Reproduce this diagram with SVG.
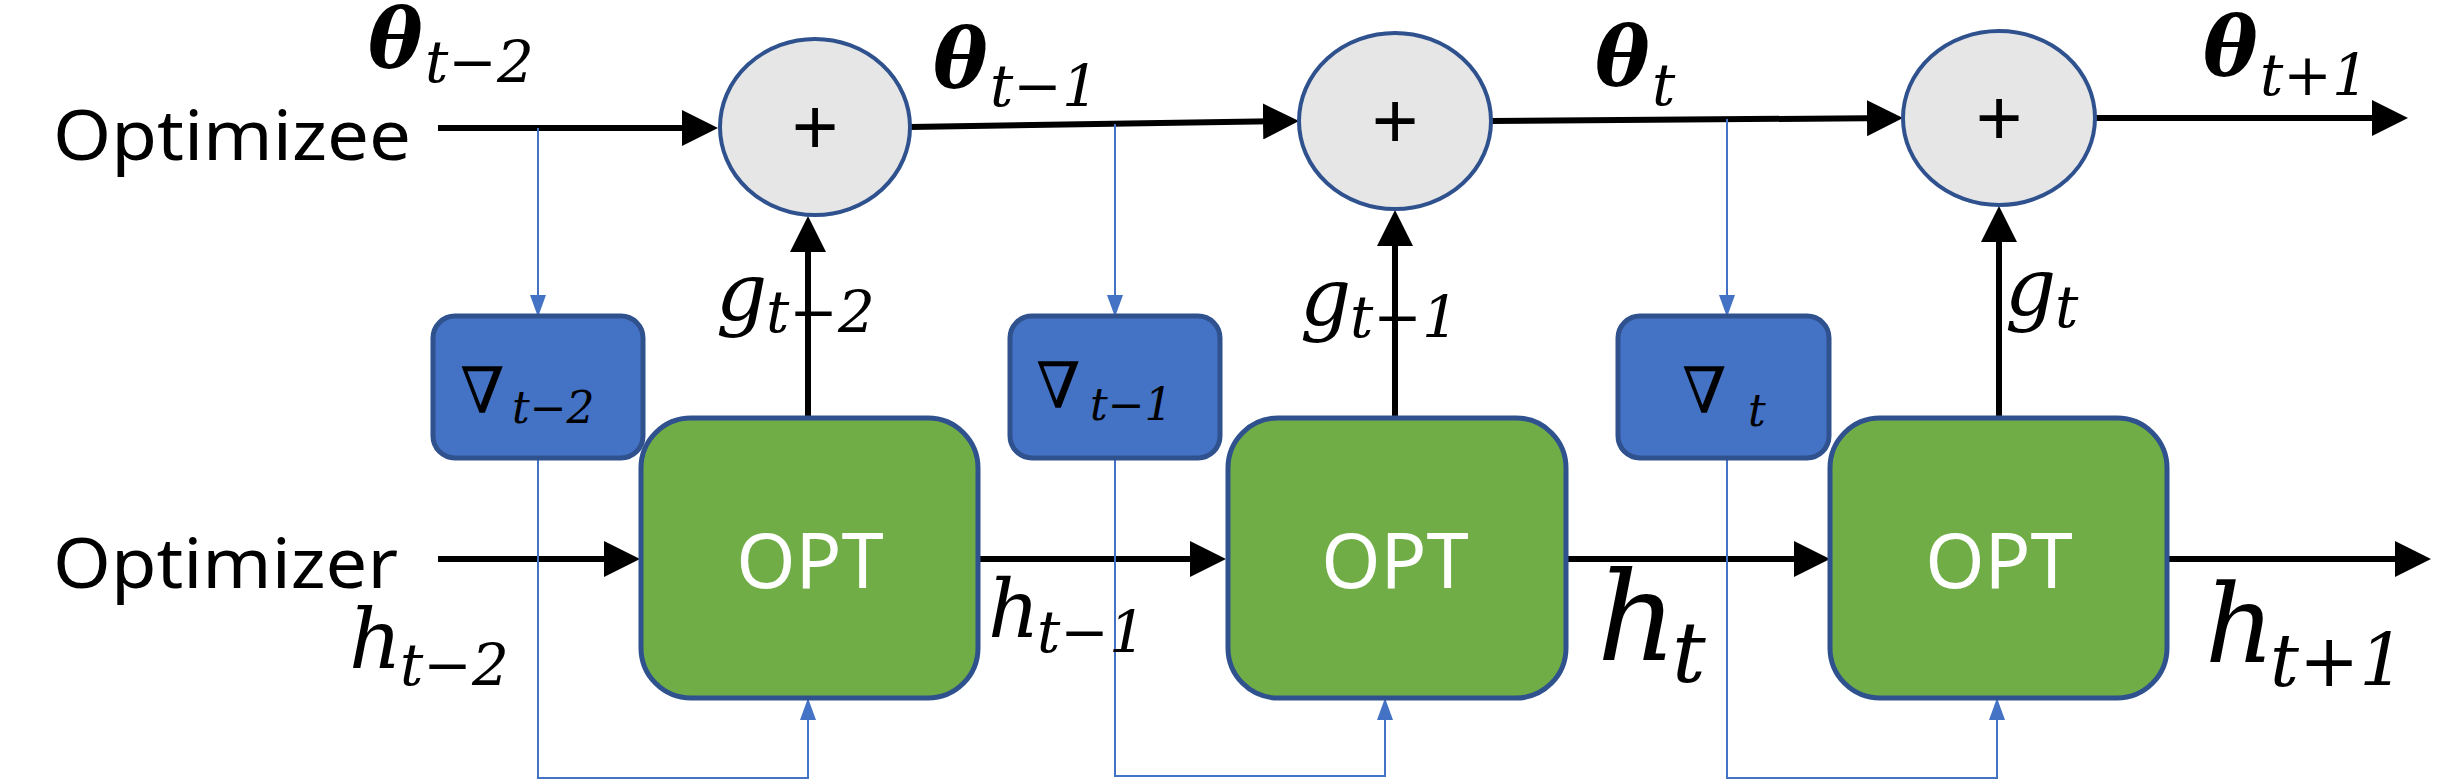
<svg xmlns="http://www.w3.org/2000/svg" width="2458" height="781" viewBox="0 0 2458 781">
<style>
.lbl{font-family:"Noto Sans","Liberation Sans",sans-serif;fill:#000}
.opt{font-family:"Noto Sans","Liberation Sans",sans-serif;fill:#fff;font-size:76px;text-anchor:middle}
.m{font-family:"DejaVu Serif","Liberation Serif",serif;font-style:italic;fill:#000}
.n{font-family:"DejaVu Serif","Liberation Serif",serif;fill:#000}
.th{font-family:"DejaVu Serif","Liberation Serif",serif;font-style:italic;font-weight:bold;fill:#000}
.sum{fill:#e6e6e6;stroke:#2f528f;stroke-width:4}
.grad{fill:#4472c4;stroke:#2f528f;stroke-width:5}
.box{fill:#70ad47;stroke:#2f528f;stroke-width:5}
.blk{stroke:#000;stroke-width:6;fill:none}
.blu{stroke:#4472c4;stroke-width:2;fill:none}
.plus{font-family:"Liberation Sans",sans-serif;font-size:80px;text-anchor:middle;fill:#000}
</style>
<defs>
<marker id="ab" markerWidth="6" markerHeight="6" refX="5" refY="3" orient="auto" markerUnits="strokeWidth"><path d="M0,0 L6,3 L0,6 Z" fill="#000"/></marker>
<marker id="au" markerWidth="22" markerHeight="16" refX="21" refY="8" orient="auto" markerUnits="userSpaceOnUse"><path d="M0,0 L22,8 L0,16 Z" fill="#4472c4"/></marker>
</defs>
<g id="connectors">
<line class="blk" x1="438" y1="128" x2="712" y2="128" marker-end="url(#ab)"/>
<line class="blk" x1="910" y1="127" x2="1293" y2="121" marker-end="url(#ab)"/>
<line class="blk" x1="1491" y1="121" x2="1897" y2="118" marker-end="url(#ab)"/>
<line class="blk" x1="2095" y1="118" x2="2402" y2="118" marker-end="url(#ab)"/>
<line class="blk" x1="438" y1="559" x2="634" y2="559" marker-end="url(#ab)"/>
<line class="blk" x1="978" y1="559" x2="1220" y2="559" marker-end="url(#ab)"/>
<line class="blk" x1="1566" y1="559" x2="1824" y2="559" marker-end="url(#ab)"/>
<line class="blk" x1="2167" y1="559" x2="2425" y2="559" marker-end="url(#ab)"/>
<line class="blk" x1="808" y1="418" x2="808" y2="222" marker-end="url(#ab)"/>
<line class="blk" x1="1395" y1="418" x2="1395" y2="216" marker-end="url(#ab)"/>
<line class="blk" x1="1999" y1="418" x2="1999" y2="212" marker-end="url(#ab)"/>
<line class="blu" x1="538" y1="128" x2="538" y2="316" marker-end="url(#au)"/>
<line class="blu" x1="1115" y1="124" x2="1115" y2="316" marker-end="url(#au)"/>
<line class="blu" x1="1727" y1="119" x2="1727" y2="316" marker-end="url(#au)"/>
<polyline class="blu" points="538,458 538,778 808,778 808,699" marker-end="url(#au)"/>
<polyline class="blu" points="1115,458 1115,776 1385,776 1385,699" marker-end="url(#au)"/>
<polyline class="blu" points="1727,458 1727,778 1997,778 1997,699" marker-end="url(#au)"/>
</g>
<g id="sum1"><ellipse class="sum" cx="815" cy="127" rx="95" ry="88"/><text class="plus" x="815" y="154">+</text></g>
<g id="sum2"><ellipse class="sum" cx="1395" cy="121" rx="96" ry="88"/><text class="plus" x="1395" y="148">+</text></g>
<g id="sum3"><ellipse class="sum" cx="1999" cy="118" rx="96" ry="87"/><text class="plus" x="1999" y="145">+</text></g>
<g id="grad1"><rect class="grad" x="433" y="316" width="210" height="142" rx="22"/><text class="n" x="460" y="413" font-size="64">∇</text><text class="m" x="512" y="423" font-size="44">t−2</text></g>
<g id="grad2"><rect class="grad" x="1010" y="316" width="210" height="142" rx="22"/><text class="n" x="1036" y="408" font-size="64">∇</text><text class="m" x="1090" y="420" font-size="44">t−1</text></g>
<g id="grad3"><rect class="grad" x="1618" y="316" width="211" height="142" rx="22"/><text class="n" x="1682" y="413" font-size="64">∇</text><text class="m" x="1748" y="426" font-size="44">t</text></g>
<g id="opt1"><rect class="box" x="641" y="418" width="337" height="280" rx="50"/><text class="opt" x="810" y="588">OPT</text></g>
<g id="opt2"><rect class="box" x="1228" y="418" width="338" height="280" rx="50"/><text class="opt" x="1395" y="588">OPT</text></g>
<g id="opt3"><rect class="box" x="1830" y="418" width="337" height="280" rx="50"/><text class="opt" x="1999" y="588">OPT</text></g>
<g id="labels">
<text class="lbl" x="53" y="160" font-size="70" textLength="358" lengthAdjust="spacingAndGlyphs">Optimizee</text>
<text class="lbl" x="53" y="588" font-size="70" textLength="345" lengthAdjust="spacingAndGlyphs">Optimizer</text>
<text class="th" x="368" y="68" font-size="82">θ</text><text class="m" x="425" y="82" font-size="58">t−2</text>
<text class="th" x="933" y="88" font-size="82">θ</text><text class="m" x="990" y="106" font-size="58">t−1</text>
<text class="th" x="1595" y="86" font-size="82">θ</text><text class="m" x="1652" y="105" font-size="58">t</text>
<text class="th" x="2203" y="76" font-size="82">θ</text><text class="m" x="2260" y="95" font-size="58">t+1</text>
<text class="m" x="716" y="320" font-size="80">g</text><text class="m" x="766" y="332" font-size="58">t−2</text>
<text class="m" x="1300" y="325" font-size="80">g</text><text class="m" x="1350" y="337" font-size="58">t−1</text>
<text class="m" x="2005" y="315" font-size="80">g</text><text class="m" x="2055" y="327" font-size="58">t</text>
<text class="m" x="349" y="668" font-size="82">h</text><text class="m" x="400" y="685" font-size="58">t−2</text>
<text class="m" x="988" y="637" font-size="80">h</text><text class="m" x="1037" y="652" font-size="58">t−1</text>
<text class="m" x="1597" y="660" font-size="124">h</text><text class="m" x="1672" y="682" font-size="84">t</text>
<text class="m" x="2205" y="662" font-size="108">h</text><text class="m" x="2270" y="686" font-size="72">t+1</text>
</g>
</svg>
